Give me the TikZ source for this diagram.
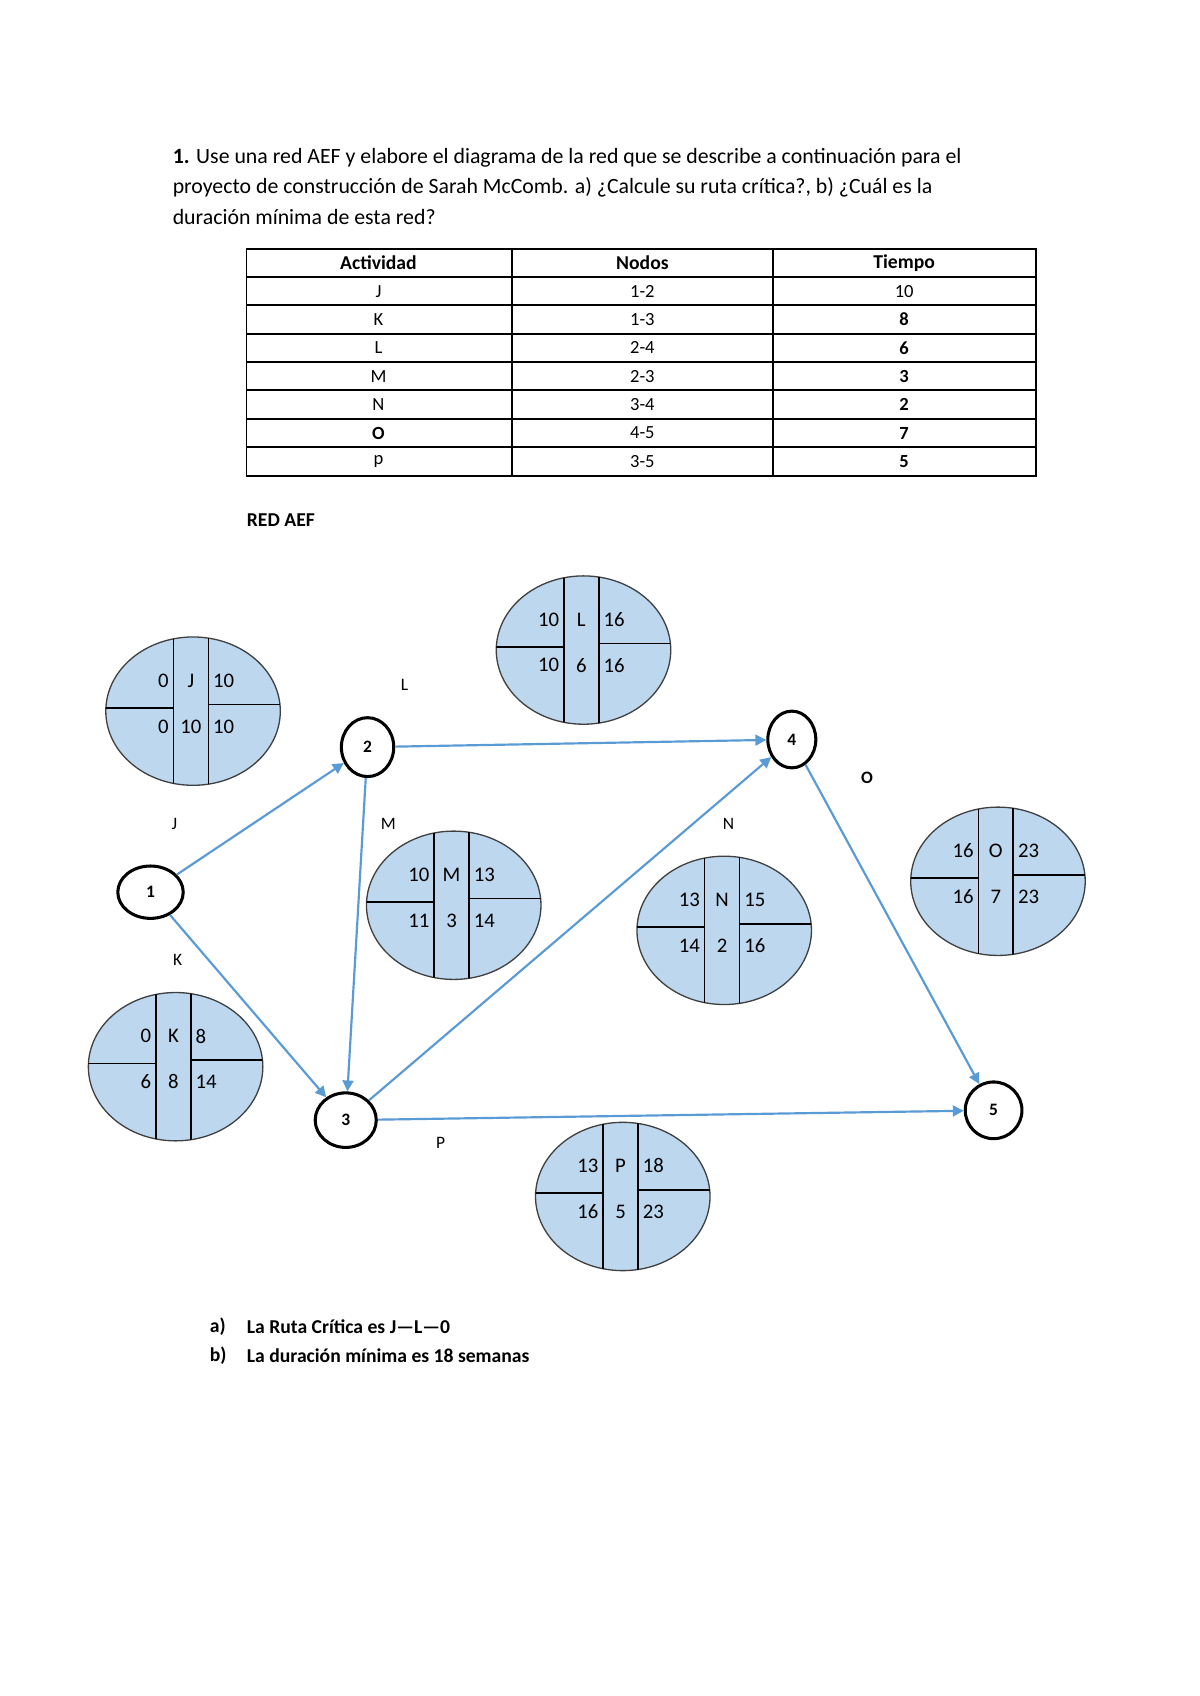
\documentclass[tikz,border=0pt]{standalone}
\usepackage{fontspec}
\setmainfont{Carlito}
\usetikzlibrary{shapes.geometric,arrows.meta}
\definecolor{eblue}{HTML}{BDD7EE}
\definecolor{ablue}{HTML}{5B9BD5}
\newcommand{\infobox}[9]{%
 \node[infoell] (#1) at (#2,#3) {};
 \begin{scope}
 \clip (#2,#3) ellipse [x radius=40pt, y radius=34pt];
 \draw[line width=0.7pt] (#2-18,#3-70) -- (#2-18,#3+70);
 \draw[line width=0.7pt] (#2+14,#3-70) -- (#2+14,#3+70);
 \draw[line width=0.7pt] (#2-90,#3-3) -- (#2-18,#3-3);
 \draw[line width=0.7pt] (#2+14,#3-6) -- (#2+90,#3-6);
 \end{scope}
 \node[etxt,anchor=east] at (#2-20,#3-28) {#4};
 \node[etxt] at (#2-2,#3-28) {#5};
 \node[etxt,anchor=west] at (#2+16,#3-28) {#6};
 \node[etxt,anchor=east] at (#2-20,#3+14) {#7};
 \node[etxt] at (#2-2,#3+14) {#8};
 \node[etxt,anchor=west] at (#2+16,#3+14) {#9};
}
\begin{document}
\begin{tikzpicture}[x=0.5pt,y=-0.5pt,
 infoell/.style={ellipse,draw=black!75,fill=eblue,line width=0.6pt,minimum width=80pt,minimum height=68pt,inner sep=0},
 etxt/.style={font=\fontsize{9.5}{11}\selectfont,inner sep=1pt},
 evt/.style={ellipse,draw=black,line width=1.4pt,fill=white,inner sep=0,font=\fontsize{8}{9}\selectfont\bfseries},
 arr/.style={draw=ablue,line width=1pt,-{Triangle[length=5pt,width=5pt]}},
 lbl/.style={font=\fontsize{8}{9}\selectfont},
 cell/.style={font=\fontsize{8.5}{10}\selectfont}]
\useasboundingbox (0,0) rectangle (1100,1555);
% title
\node[anchor=west,inner sep=0,font=\fontsize{10}{12}\selectfont] (t1) at (158,145) {\textbf{1.} Use una red AEF y elabore el diagrama de la red que se describe a continuación para el};
\node[anchor=west,inner sep=0,font=\fontsize{10}{12}\selectfont] (t2) at (158,172) {proyecto de construcción de Sarah McComb. a) ¿Calcule su ruta crítica?, b) ¿Cuál es la};
\node[anchor=west,inner sep=0,font=\fontsize{10}{12}\selectfont] (t3) at (158,199) {duración mínima de esta red?};
% table
\draw[line width=0.9pt] (226,228) rectangle (950,436);
\foreach \y in {254,280,306,332,358,384,410} \draw[line width=0.9pt] (226,\y) -- (950,\y);
\draw[line width=0.9pt] (469,228) -- (469,436);
\draw[line width=0.9pt] (709,228) -- (709,436);
\node[cell,font=\fontsize{9}{10}\selectfont\bfseries] (h1) at (347,241) {Actividad};
\node[cell,font=\fontsize{9}{10}\selectfont\bfseries] (h2) at (589,241) {Nodos};
\node[cell,font=\fontsize{9}{10}\selectfont\bfseries] (h3) at (829,241) {Tiempo};
\foreach \a/\n/\t [count=\i] in {J/1-2/10,K/1-3/\textbf{8},L/2-4/\textbf{6},M/2-3/\textbf{3},N/3-4/\textbf{2},\textbf{O}/4-5/\textbf{7},p/3-5/\textbf{5}}{
 \node[cell] at (347,254+26*\i-13) {\a};
 \node[cell] at (589,254+26*\i-13) {\n};
 \node[cell] at (829,254+26*\i-13) {\t};
}
\node[anchor=west,inner sep=0,font=\fontsize{9}{11}\selectfont\bfseries] (red) at (226,477) {RED AEF};
% info ellipses
\infobox{eJ}{177}{652}{0}{J}{10}{0}{10}{10}
\infobox{eL}{535}{596}{10}{L}{16}{10}{6}{16}
\infobox{eM}{416}{830}{10}{M}{13}{11}{3}{14}
\infobox{eN}{664}{853}{13}{N}{15}{14}{2}{16}
\infobox{eO}{915}{808}{16}{O}{23}{16}{7}{23}
\infobox{eK}{161}{978}{0}{K}{8}{6}{8}{14}
\infobox{eP}{571}{1097}{13}{P}{18}{16}{5}{23}
% events
\node[evt,minimum width=30pt,minimum height=24pt] (n1) at (138,818) {1};
\node[evt,minimum width=24pt,minimum height=27pt] (n2) at (337,685) {2};
\node[evt,minimum width=28pt,minimum height=25pt] (n3) at (317,1027) {3};
\node[evt,minimum width=22pt,minimum height=26pt] (n4) at (726,678) {4};
\node[evt,minimum width=26pt,minimum height=26pt] (n5) at (911,1018) {5};
% arrows
\draw[arr] (n1) -- (n2);
\draw[arr] (n1) -- (n3);
\draw[arr] (n2) -- (n4);
\draw[arr] (n2) -- (n3);
\draw[arr] (n3) -- (n4);
\draw[arr] (n4) -- (n5);
\draw[arr] (n3) -- (n5);
% labels
\node[lbl] (lL) at (371,628) {L};
\node[lbl] (lJ) at (160,755) {J};
\node[lbl] (lM) at (356,755) {M};
\node[lbl] (lN) at (668,755) {N};
\node[lbl,font=\fontsize{8}{9}\selectfont\bfseries] (lO) at (795,713) {O};
\node[lbl] (lK) at (163,880) {K};
\node[lbl] (lP) at (404,1048) {P};
% answers
\node[anchor=west,inner sep=0,font=\fontsize{9}{11}\selectfont\bfseries] (a1) at (192,1216) {a)};
\node[anchor=west,inner sep=0,font=\fontsize{9}{11}\selectfont\bfseries] (a2) at (226,1216) {La Ruta Crítica es J—L—0};
\node[anchor=west,inner sep=0,font=\fontsize{9}{11}\selectfont\bfseries] (b1) at (192,1243) {b)};
\node[anchor=west,inner sep=0,font=\fontsize{9}{11}\selectfont\bfseries] (b2) at (226,1243) {La duración mínima es 18 semanas};
\end{tikzpicture}
\end{document}
